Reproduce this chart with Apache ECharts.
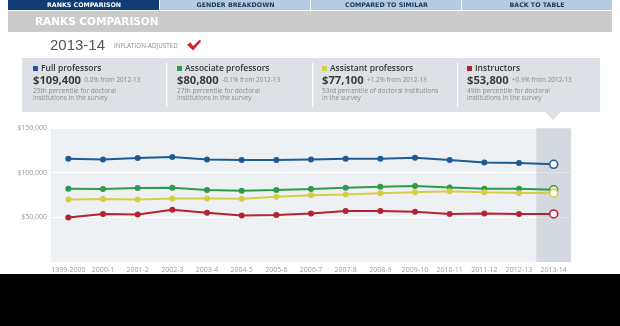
<!DOCTYPE html>
<html>
<head>
<meta charset="utf-8">
<script src="https://cdn.jsdelivr.net/npm/echarts@6/dist/echarts.min.js"></script>
<style>
html,body{margin:0;padding:0;background:#fff;}
#c{width:620px;height:326px;}
</style>
</head>
<body>
<div id="c"></div>
<script>
var categories = ['1999-2000','2000-1','2001-2','2002-3','2003-4','2004-5','2005-6','2006-7','2007-8','2008-9','2009-10','2010-11','2011-12','2012-13','2013-14'];
var fullProf    = [115500,114800,116300,117400,114800,114100,114100,114800,115500,115500,116700,114100,111500,110700,109400];
var assocProf   = [82000,81600,82800,83200,80600,79800,80600,81600,83200,84300,85000,83500,82000,82000,80800];
var asstProf    = [70000,70400,70000,71100,71100,70800,73000,74800,75500,76900,78000,79100,78000,77300,77100];
var instructors = [49900,53700,53300,58500,55100,52100,52500,54400,57000,57000,56300,53700,54400,53700,53800];
var yTicks = [0, 50000, 100000, 150000];
var tabLabels = ['RANKS COMPARISON','GENDER BREAKDOWN','COMPARED TO SIMILAR','BACK TO TABLE'];
var headerTitle = 'RANKS COMPARISON';
var yearTitle = '2013-14';
var adjustedLabel = 'INFLATION-ADJUSTED';
var rankNames = ['Full professors','Associate professors','Assistant professors','Instructors'];
var latestLabels = ['$109,400','$80,800','$77,100','$53,800'];
var changeLabels = ['0.0% from 2012-13','-0.1% from 2012-13','+1.2% from 2012-13','+0.9% from 2012-13'];
var percentileLines = [
  ['25th percentile for doctoral','institutions in the survey'],
  ['27th percentile for doctoral','institutions in the survey'],
  ['53rd percentile of doctoral institutions','in the survey'],
  ['49th percentile for doctoral','institutions in the survey']
];
var highlightValue = [null,null,null,null,null,null,null,null,null,null,null,null,null,null,150000];

var colors = ['#1e5b94','#2f9a4a','#d6cd46','#b52331'];
var iconColors = ['#2a52a6','#2f9a4a','#d6cd46','#b52331'];
var FONT = 'Open Sans';

var chart = echarts.init(document.getElementById('c'), null, {renderer:'canvas'});

var graphics = [];
// tabs
var tabX = [8,160,311,462,612];
for (var i=0;i<4;i++){
  graphics.push({type:'rect', shape:{x:tabX[i], y:0, width:tabX[i+1]-tabX[i]-(i<3?1:0), height:10},
    style:{fill: i===0 ? '#0f3c74' : '#b4cbe1'}, silent:true});
  graphics.push({type:'text', x:(tabX[i]+tabX[i+1])/2, y:5.3,
    style:{text:tabLabels[i], font:'bold 6.3px "DejaVu Sans"', fill: i===0 ? '#ffffff' : '#1d3a60', align:'center', verticalAlign:'middle'}});
}
// header band
graphics.push({type:'rect', shape:{x:8,y:11,width:604,height:21}, style:{fill:'#cbcbcb'}, silent:true});
graphics.push({type:'text', x:35, y:22, style:{text:headerTitle, font:'bold 10.5px "DejaVu Sans"', fill:'#ffffff', verticalAlign:'middle'}});
// year title
graphics.push({type:'text', x:50, y:46, style:{text:yearTitle, font:'15px "Liberation Sans"', fill:'#555555', verticalAlign:'middle'}});
graphics.push({type:'text', x:114, y:46.5, style:{text:adjustedLabel, font:'6.3px "'+FONT+'"', fill:'#8a8a8a', verticalAlign:'middle'}});
// red check
graphics.push({type:'polygon', shape:{points:[[187,44.5],[190.5,42.5],[193,46],[200,39.5],[201,41.5],[193,50.5]]}, style:{fill:'#d3202e'}, silent:true});
// panel
graphics.push({type:'rect', shape:{x:22,y:58,width:578,height:54}, style:{fill:'#dde1e6'}, silent:true});
graphics.push({type:'polygon', shape:{points:[[545,112],[561,112],[553,120]]}, style:{fill:'#dde1e6'}, silent:true});
var dividers = [166,312,457];
dividers.forEach(function(dx){
  graphics.push({type:'rect', shape:{x:dx,y:63,width:1.2,height:44}, style:{fill:'#ffffff'}, silent:true});
});
var secX = [33,177,322,467];
for (var k=0;k<4;k++){
  var sx = secX[k];
  graphics.push({type:'rect', shape:{x:sx,y:66,width:5,height:5}, style:{fill:iconColors[k]}, silent:true});
  graphics.push({type:'text', x:sx+8, y:68.5, style:{text:rankNames[k], font:'600 8.5px "'+FONT+'"', fill:'#333333', verticalAlign:'middle'}});
  graphics.push({type:'text', x:sx, y:80.5, style:{
    text:'{v|'+latestLabels[k]+'} {c|'+changeLabels[k]+'}', verticalAlign:'middle',
    rich:{v:{fontFamily:FONT,fontSize:11.2,fontWeight:'bold',fill:'#3a3a3a',color:'#3a3a3a'},
          c:{fontFamily:FONT,fontSize:6.4,fill:'#8a8a8a',color:'#8a8a8a'}}}});
  graphics.push({type:'text', x:sx, y:91, style:{text:percentileLines[k][0], font:'6.5px "'+FONT+'"', fill:'#8a8a8a', verticalAlign:'middle'}});
  graphics.push({type:'text', x:sx, y:98, style:{text:percentileLines[k][1], font:'6.5px "'+FONT+'"', fill:'#8a8a8a', verticalAlign:'middle'}});
}
// black band
graphics.push({type:'rect', shape:{x:0,y:274,width:620,height:52}, style:{fill:'#000000'}, silent:true, z:100});

function lineSeries(name, data, color){
  var d = data.map(function(v, idx){
    if (idx === data.length-1){
      return {value:v, symbolSize:8, itemStyle:{color:'#ffffff', borderColor:color, borderWidth:1.6}};
    }
    return v;
  });
  return {
    name:name, type:'line', data:d, symbol:'circle', symbolSize:6, z:3,
    lineStyle:{color:color, width:2}, itemStyle:{color:color}, emphasis:{disabled:true}
  };
}

var option = {
  animation:false,
  backgroundColor:'#ffffff',
  grid:{left:51, right:49, top:128, bottom:64, show:true, backgroundColor:'#eef1f4', borderWidth:0},
  xAxis:{type:'category', data:categories, boundaryGap:true,
    axisLine:{show:false}, axisTick:{show:false},
    axisLabel:{color:'#9a9a9a', fontSize:7, fontFamily:FONT, margin:4, interval:0}},
  yAxis:{type:'value', min:0, max:150000, interval:50000,
    axisLine:{show:false}, axisTick:{show:false},
    splitLine:{show:true, lineStyle:{color:'#ffffff', width:1}},
    axisLabel:{color:'#9a9a9a', fontSize:7, fontFamily:FONT, margin:4,
      formatter:function(v){ return v===0 ? '' : '$'+v.toLocaleString('en-US'); }}},
  graphic:graphics,
  series:[
    {type:'bar', data:highlightValue, barWidth:'100%', silent:true, z:1,
      itemStyle:{color:'rgba(160,170,182,0.33)'}},
    lineSeries(rankNames[0], fullProf, colors[0]),
    lineSeries(rankNames[1], assocProf, colors[1]),
    lineSeries(rankNames[2], asstProf, colors[2]),
    lineSeries(rankNames[3], instructors, colors[3])
  ]
};
chart.setOption(option);
</script>
</body>
</html>
